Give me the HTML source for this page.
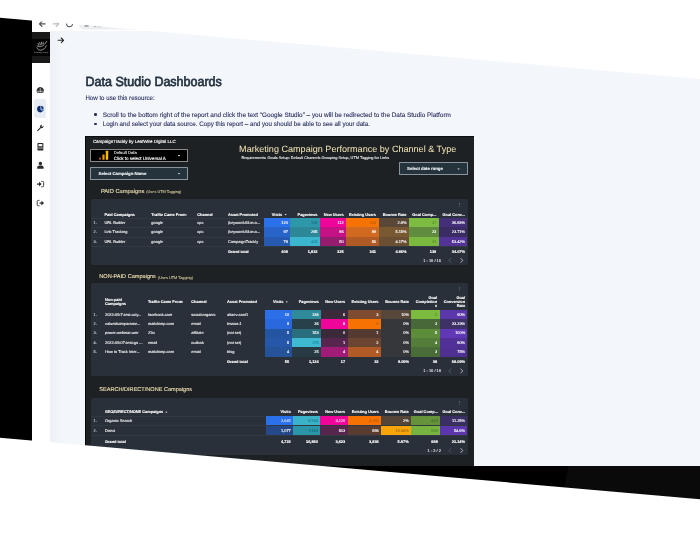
<!DOCTYPE html>
<html><head><meta charset="utf-8"><title>Data Studio Dashboards</title>
<style>
html,body{margin:0;padding:0;}
body{width:700px;height:560px;overflow:hidden;background:#fff;position:relative;font-family:"Liberation Sans",sans-serif;}
.tx{will-change:transform;text-rendering:geometricPrecision;filter:blur(0.25px);}
.r{position:absolute;}
</style></head><body>
<div class="r" style="left:0.00px;top:0.00px;width:32.30px;height:470.00px;background:#000;"></div>
<div class="r" style="left:49.90px;top:31.10px;width:650.10px;height:434.90px;background:#f3f6fb;"></div>
<div class="r" style="left:49.90px;top:31.10px;width:13.10px;height:434.90px;background:linear-gradient(90deg,#eef1f6,#f3f6fb);"></div>
<div class="r" style="left:300.00px;top:466.00px;width:400.00px;height:39.00px;background:#000;"></div>
<svg class="r" style="left:0;top:0" width="700" height="560"><polygon points="568.5,466 700,466 700,505 561,505" fill="#0a0a0a"/></svg>
<svg class="r" style="left:0;top:0" width="700" height="560">
<g fill="none" stroke-linecap="round" stroke-linejoin="round">
<path d="M45.1,23.9 H39.4 M42,21.3 L39.4,23.9 L42,26.5" stroke="#50555a" stroke-width="1.1"/>
<path d="M53.2,23.9 H58.8 M56.2,21.3 L58.8,23.9 L56.2,26.5" stroke="#bdbdbd" stroke-width="1.1"/>
<path d="M72.6,23.4 A3.05,3.05 0 1 1 71.2,21.2" stroke="#50555a" stroke-width="1.05"/>
</g>
<rect x="78.8" y="19.4" width="640" height="10.1" rx="5" fill="#eceef1"/>
<rect x="84.8" y="25.2" width="3.8" height="1.2" fill="#555"/>
<rect x="94" y="25.8" width="2.5" height="1" fill="#999"/><rect x="98" y="26.2" width="3.5" height="0.9" fill="#aaa"/>
</svg>
<div class="r" style="left:32.30px;top:32.10px;width:17.60px;height:30.70px;background:#181818;"></div>
<div class="r" style="left:32.30px;top:38.70px;width:17.60px;height:17.20px;background:#020202;"></div>
<svg class="r" style="left:0;top:0" width="700" height="560">
<g fill="none" stroke="#ececec" stroke-linecap="round" stroke-width="0.6">
<path d="M36.9,47.8 C38,51.2 44,51.6 46.3,45.7"/>
<path d="M37.2,45.9 C39.5,47.7 43.5,46.9 46.7,41.4"/>
<path d="M38.0,43.3 L38.9,45.4 M39.7,42.5 L40.4,44.9 M41.5,42.1 L41.8,44.5 M43.3,42.3 L43.2,43.7"/>
</g></svg>
<svg class="r" style="left:0;top:0" width="700" height="560">
<path d="M58.1,40.3 H63.6 M61.3,38 L63.6,40.3 L61.3,42.6" fill="none" stroke="#2a2a2a" stroke-width="1.1" stroke-linecap="round" stroke-linejoin="round"/></svg>
<div class="r" style="left:34.20px;top:99.30px;width:12.00px;height:18.80px;background:#e8ecf4;border-radius:2px;"></div>
<svg class="r" style="left:0;top:0" width="700" height="560"><g transform="translate(40.25,90.9) scale(1.0)"><path d="M-3.0,1.75 A3.55,3.55 0 1 1 3.0,1.75 Z" fill="#2b2b2b"/><path d="M0,-3.2 V1.0 M-3.3,0.35 H3.3" stroke="#fff" stroke-width="0.6"/></g><g transform="translate(40.4,109.10000000000001) scale(0.88)"><circle cx="0" cy="0" r="3.75" fill="#0b2c72"/><path d="M0.5,-4.4 V0.1 H4.6" fill="none" stroke="#e8ecf4" stroke-width="0.8"/><path d="M0.5,0.1 L3.2,3.3" fill="none" stroke="#e8ecf4" stroke-width="0.8"/></g><g transform="translate(40.4,127.9) scale(0.75)"><path d="M-3.6,3.6 L0.6,-0.6" stroke="#2b2b2b" stroke-width="1.5" stroke-linecap="round"/><circle cx="1.8" cy="-1.9" r="2.3" fill="#2b2b2b"/><path d="M1.8,-1.9 L4.6,-4.6" stroke="#fff" stroke-width="1.5"/></g><g transform="translate(40.4,146.70000000000002) scale(0.9)"><rect x="-3.3" y="-4.1" width="6.6" height="8.2" rx="0.7" fill="#2b2b2b"/><rect x="-2.1" y="-2.9" width="4.2" height="2.4" fill="#fff"/><rect x="-3.3" y="1.1" width="6.6" height="0.7" fill="#fff"/></g><g transform="translate(40.4,165.29999999999998) scale(0.82)"><circle cx="0" cy="-2.2" r="2.1" fill="#2b2b2b"/><path d="M-3.9,4.1 V2.6 Q-3.9,0.3 -1.4,0.3 H1.4 Q3.9,0.3 3.9,2.6 V4.1 Z" fill="#2b2b2b"/></g><g transform="translate(40.4,184.1) scale(0.82)"><path d="M-4.2,0 H-0.2" stroke="#2b2b2b" stroke-width="1.6"/><path d="M-1.6,-3 L1.5,0 L-1.6,3 Z" fill="#2b2b2b"/><path d="M1.6,-3.3 H2.6 Q3.9,-3.3 3.9,-2.1 V2.1 Q3.9,3.3 2.6,3.3 H1.6" fill="none" stroke="#2b2b2b" stroke-width="1.1" stroke-linecap="round"/></g><g transform="translate(40.4,203.1) scale(0.82)"><path d="M-1,0 H2.2" stroke="#2b2b2b" stroke-width="1.6"/><path d="M1.3,-3 L4.4,0 L1.3,3 Z" fill="#2b2b2b"/><path d="M-1.6,-3.3 H-2.6 Q-3.9,-3.3 -3.9,-2.1 V2.1 Q-3.9,3.3 -2.6,3.3 H-1.6" fill="none" stroke="#2b2b2b" stroke-width="1.1" stroke-linecap="round"/></g></svg>
<div class="r" style="left:94.10px;top:113.10px;width:2.60px;height:2.60px;background:#282d5c;border-radius:50%;"></div>
<div class="r" style="left:94.10px;top:122.80px;width:2.60px;height:2.60px;background:#282d5c;border-radius:50%;"></div>
<div class="r" style="left:84.90px;top:136.10px;width:388.70px;height:329.90px;background:#1e2124;"></div>
<div class="r" style="left:84.90px;top:136.10px;width:1.40px;height:329.90px;background:#070707;"></div>
<div class="r" style="left:84.90px;top:136.10px;width:388.70px;height:1.00px;background:#0c0d0e;"></div>
<div class="r" style="left:90.30px;top:149.10px;width:97.70px;height:13.20px;background:#000;border:0.6px solid #8a8a8a;box-sizing:border-box;border-radius:0.6px;"></div>
<div class="r" style="left:90.30px;top:167.10px;width:97.70px;height:12.90px;background:#25333d;border:0.6px solid #8a949e;box-sizing:border-box;border-radius:0.6px;"></div>
<div class="r" style="left:399.10px;top:162.30px;width:68.90px;height:12.80px;background:#25333d;border:0.6px solid #8a949e;box-sizing:border-box;border-radius:0.6px;"></div>
<svg class="r" style="left:0;top:0" width="700" height="560">
<rect x="99.2" y="157.6" width="1.6" height="2.2" rx="0.7" fill="#e8710a"/>
<rect x="102.4" y="154.4" width="2.2" height="5.4" rx="0.5" fill="#f29900"/>
<rect x="105.8" y="150.8" width="2.4" height="9" rx="0.5" fill="#fbbc04"/>
<path d="M177.8,155 h2.4 l-1.2,1.4 z" fill="#fff"/>
<path d="M177.8,173 h2.4 l-1.2,1.4 z" fill="#dfe6ee"/>
<path d="M457.4,168.4 h2.4 l-1.2,1.4 z" fill="#dfe6ee"/>
</svg>
<div class="r" style="left:90.70px;top:199.30px;width:377.30px;height:65.70px;background:#293039;border-radius:1.8px;"></div>
<div class="r" style="left:459.25px;top:202.75px;width:0.70px;height:0.70px;background:#59606a;border-radius:50%;"></div>
<div class="r" style="left:459.25px;top:204.25px;width:0.70px;height:0.70px;background:#59606a;border-radius:50%;"></div>
<div class="r" style="left:459.25px;top:205.75px;width:0.70px;height:0.70px;background:#59606a;border-radius:50%;"></div>
<div class="r" style="left:90.70px;top:217.65px;width:377.30px;height:0.50px;background:#323840;"></div>
<div class="r" style="left:263.80px;top:217.90px;width:27.20px;height:10.10px;background:#2c71ec;"></div>
<div class="r" style="left:290.40px;top:217.90px;width:30.20px;height:10.10px;background:#2e98ab;"></div>
<div class="r" style="left:320.00px;top:217.90px;width:26.70px;height:10.10px;background:#f0059a;"></div>
<div class="r" style="left:346.10px;top:217.90px;width:33.00px;height:10.10px;background:#f67303;"></div>
<div class="r" style="left:378.50px;top:217.90px;width:31.10px;height:10.10px;background:#5a4738;"></div>
<div class="r" style="left:409.00px;top:217.90px;width:30.40px;height:10.10px;background:#7dbb42;"></div>
<div class="r" style="left:438.80px;top:217.90px;width:28.20px;height:10.10px;background:#452f78;"></div>
<div class="r" style="left:90.70px;top:227.15px;width:377.30px;height:0.50px;background:#323840;"></div>
<div class="r" style="left:263.80px;top:227.40px;width:27.20px;height:10.00px;background:#2863c9;"></div>
<div class="r" style="left:290.40px;top:227.40px;width:30.20px;height:10.00px;background:#2c8797;"></div>
<div class="r" style="left:320.00px;top:227.40px;width:26.70px;height:10.00px;background:#c41285;"></div>
<div class="r" style="left:346.10px;top:227.40px;width:33.00px;height:10.00px;background:#d16a20;"></div>
<div class="r" style="left:378.50px;top:227.40px;width:31.10px;height:10.00px;background:#785931;"></div>
<div class="r" style="left:409.00px;top:227.40px;width:30.40px;height:10.00px;background:#608c3e;"></div>
<div class="r" style="left:438.80px;top:227.40px;width:28.20px;height:10.00px;background:#3a2c63;"></div>
<div class="r" style="left:90.70px;top:236.55px;width:377.30px;height:0.50px;background:#323840;"></div>
<div class="r" style="left:263.80px;top:236.80px;width:27.20px;height:9.40px;background:#265ab0;"></div>
<div class="r" style="left:290.40px;top:236.80px;width:30.20px;height:9.40px;background:#3cb5ce;"></div>
<div class="r" style="left:320.00px;top:236.80px;width:26.70px;height:9.40px;background:#961c6e;"></div>
<div class="r" style="left:346.10px;top:236.80px;width:33.00px;height:9.40px;background:#b05a26;"></div>
<div class="r" style="left:378.50px;top:236.80px;width:31.10px;height:9.40px;background:#6b4f33;"></div>
<div class="r" style="left:409.00px;top:236.80px;width:30.40px;height:9.40px;background:#7ab83f;"></div>
<div class="r" style="left:438.80px;top:236.80px;width:28.20px;height:9.40px;background:#533397;"></div>
<div class="r" style="left:90.70px;top:245.95px;width:377.30px;height:0.50px;background:#323840;"></div>
<svg class="r" style="left:0;top:0" width="700" height="560"><path d="M451,258.09999999999997 L448.9,260.4 L451,262.7" fill="none" stroke="#6b737d" stroke-width="0.7"/><path d="M460.6,258.09999999999997 L462.7,260.4 L460.6,262.7" fill="none" stroke="#e8e8e8" stroke-width="0.7"/></svg>
<div class="r" style="left:90.70px;top:283.30px;width:377.30px;height:92.60px;background:#293039;border-radius:1.8px;"></div>
<div class="r" style="left:459.25px;top:286.75px;width:0.70px;height:0.70px;background:#59606a;border-radius:50%;"></div>
<div class="r" style="left:459.25px;top:288.25px;width:0.70px;height:0.70px;background:#59606a;border-radius:50%;"></div>
<div class="r" style="left:459.25px;top:289.75px;width:0.70px;height:0.70px;background:#59606a;border-radius:50%;"></div>
<div class="r" style="left:265.40px;top:309.60px;width:27.00px;height:10.00px;background:#2c6fe9;"></div>
<div class="r" style="left:291.80px;top:309.60px;width:29.80px;height:10.00px;background:#2f8a99;"></div>
<div class="r" style="left:321.00px;top:309.60px;width:27.30px;height:10.00px;background:#3a2a3a;"></div>
<div class="r" style="left:347.70px;top:309.60px;width:34.20px;height:10.00px;background:#7e4a30;"></div>
<div class="r" style="left:381.30px;top:309.60px;width:30.50px;height:10.00px;background:#57463a;"></div>
<div class="r" style="left:411.20px;top:309.60px;width:29.80px;height:10.00px;background:#7cba40;"></div>
<div class="r" style="left:440.40px;top:309.60px;width:26.70px;height:10.00px;background:#5c36ab;"></div>
<div class="r" style="left:265.40px;top:319.00px;width:27.00px;height:10.10px;background:#2a69dd;"></div>
<div class="r" style="left:291.80px;top:319.00px;width:29.80px;height:10.10px;background:#28404a;"></div>
<div class="r" style="left:321.00px;top:319.00px;width:27.30px;height:10.10px;background:#f0059a;"></div>
<div class="r" style="left:347.70px;top:319.00px;width:34.20px;height:10.10px;background:#f67303;"></div>
<div class="r" style="left:381.30px;top:319.00px;width:30.50px;height:10.10px;background:#35373b;"></div>
<div class="r" style="left:411.20px;top:319.00px;width:29.80px;height:10.10px;background:#48683a;"></div>
<div class="r" style="left:440.40px;top:319.00px;width:26.70px;height:10.10px;background:#3d3166;"></div>
<div class="r" style="left:265.40px;top:328.50px;width:27.00px;height:10.00px;background:#2455a2;"></div>
<div class="r" style="left:291.80px;top:328.50px;width:29.80px;height:10.00px;background:#286e7c;"></div>
<div class="r" style="left:321.00px;top:328.50px;width:27.30px;height:10.00px;background:#3a2a3a;"></div>
<div class="r" style="left:347.70px;top:328.50px;width:34.20px;height:10.00px;background:#543a30;"></div>
<div class="r" style="left:381.30px;top:328.50px;width:30.50px;height:10.00px;background:#35373b;"></div>
<div class="r" style="left:411.20px;top:328.50px;width:29.80px;height:10.00px;background:#5d8d3a;"></div>
<div class="r" style="left:440.40px;top:328.50px;width:26.70px;height:10.00px;background:#6037b5;"></div>
<div class="r" style="left:265.40px;top:337.90px;width:27.00px;height:10.00px;background:#2657a8;"></div>
<div class="r" style="left:291.80px;top:337.90px;width:29.80px;height:10.00px;background:#3eb9d1;"></div>
<div class="r" style="left:321.00px;top:337.90px;width:27.30px;height:10.00px;background:#56264e;"></div>
<div class="r" style="left:347.70px;top:337.90px;width:34.20px;height:10.00px;background:#6c4530;"></div>
<div class="r" style="left:381.30px;top:337.90px;width:30.50px;height:10.00px;background:#35373b;"></div>
<div class="r" style="left:411.20px;top:337.90px;width:29.80px;height:10.00px;background:#537d38;"></div>
<div class="r" style="left:440.40px;top:337.90px;width:26.70px;height:10.00px;background:#513198;"></div>
<div class="r" style="left:265.40px;top:347.30px;width:27.00px;height:9.80px;background:#245399;"></div>
<div class="r" style="left:291.80px;top:347.30px;width:29.80px;height:9.80px;background:#283a44;"></div>
<div class="r" style="left:321.00px;top:347.30px;width:27.30px;height:9.80px;background:#a01c76;"></div>
<div class="r" style="left:347.70px;top:347.30px;width:34.20px;height:9.80px;background:#b05a26;"></div>
<div class="r" style="left:381.30px;top:347.30px;width:30.50px;height:9.80px;background:#35373b;"></div>
<div class="r" style="left:411.20px;top:347.30px;width:29.80px;height:9.80px;background:#4a6c38;"></div>
<div class="r" style="left:440.40px;top:347.30px;width:26.70px;height:9.80px;background:#4e3093;"></div>
<svg class="r" style="left:0;top:0" width="700" height="560"><path d="M451,368.59999999999997 L448.9,370.9 L451,373.2" fill="none" stroke="#6b737d" stroke-width="0.7"/><path d="M460.6,368.59999999999997 L462.7,370.9 L460.6,373.2" fill="none" stroke="#e8e8e8" stroke-width="0.7"/></svg>
<div class="r" style="left:90.70px;top:397.70px;width:377.30px;height:57.80px;background:#293039;border-radius:1.8px;"></div>
<div class="r" style="left:459.25px;top:400.85px;width:0.70px;height:0.70px;background:#59606a;border-radius:50%;"></div>
<div class="r" style="left:459.25px;top:402.35px;width:0.70px;height:0.70px;background:#59606a;border-radius:50%;"></div>
<div class="r" style="left:459.25px;top:403.85px;width:0.70px;height:0.70px;background:#59606a;border-radius:50%;"></div>
<div class="r" style="left:90.70px;top:415.95px;width:377.30px;height:0.50px;background:#323840;"></div>
<div class="r" style="left:266.00px;top:416.20px;width:27.90px;height:10.00px;background:#2c71ec;"></div>
<div class="r" style="left:293.30px;top:416.20px;width:27.70px;height:10.00px;background:#3ab2c8;"></div>
<div class="r" style="left:320.40px;top:416.20px;width:27.90px;height:10.00px;background:#f0059a;"></div>
<div class="r" style="left:347.70px;top:416.20px;width:34.20px;height:10.00px;background:#f67303;"></div>
<div class="r" style="left:381.30px;top:416.20px;width:30.50px;height:10.00px;background:#554539;"></div>
<div class="r" style="left:411.20px;top:416.20px;width:29.80px;height:10.00px;background:#64933c;"></div>
<div class="r" style="left:440.40px;top:416.20px;width:26.60px;height:10.00px;background:#3a2e64;"></div>
<div class="r" style="left:90.70px;top:425.35px;width:377.30px;height:0.50px;background:#323840;"></div>
<div class="r" style="left:266.00px;top:425.60px;width:27.90px;height:9.40px;background:#244888;"></div>
<div class="r" style="left:293.30px;top:425.60px;width:27.70px;height:9.40px;background:#2a96a8;"></div>
<div class="r" style="left:320.40px;top:425.60px;width:27.90px;height:9.40px;background:#56264e;"></div>
<div class="r" style="left:347.70px;top:425.60px;width:34.20px;height:9.40px;background:#583c30;"></div>
<div class="r" style="left:381.30px;top:425.60px;width:30.50px;height:9.40px;background:#f8a509;"></div>
<div class="r" style="left:411.20px;top:425.60px;width:29.80px;height:9.40px;background:#77b341;"></div>
<div class="r" style="left:440.40px;top:425.60px;width:26.60px;height:9.40px;background:#5c36ac;"></div>
<div class="r" style="left:90.70px;top:434.75px;width:377.30px;height:0.50px;background:#323840;"></div>
<svg class="r" style="left:0;top:0" width="700" height="560"><path d="M451,448.2 L448.9,450.5 L451,452.8" fill="none" stroke="#5a626b" stroke-width="0.7"/><path d="M460.6,448.2 L462.7,450.5 L460.6,452.8" fill="none" stroke="#e8e8e8" stroke-width="0.7"/></svg>
<svg class="r" style="left:0;top:0" width="700" height="560"><path d="M284.50,213.90 h2.2 l-1.1,1.3 z" fill="#fff"/><path d="M285.70,301.50 h2.2 l-1.1,1.3 z" fill="#fff"/><path d="M165.19,411.70 h2.2 l-1.1,1.3 z" fill="#fff"/></svg>
<svg class="r tx" style="left:0;top:0" width="700" height="560" font-family="Liberation Sans, sans-serif"><text x="33.84" y="53.21" font-size="1.90" fill="#aaa" textLength="14.71" lengthAdjust="spacingAndGlyphs">CampaignTrackly</text><text x="85.60" y="85.60" font-size="13.20" fill="#1f2d3b" stroke="#1f2d3b" stroke-width="0.65" textLength="136.20" lengthAdjust="spacingAndGlyphs">Data Studio Dashboards</text><text x="85.40" y="100.00" font-size="6.40" fill="#282d5c" stroke="#282d5c" stroke-width="0.1" textLength="69.30" lengthAdjust="spacingAndGlyphs">How to use this resource:</text><text x="102.70" y="116.86" font-size="6.45" fill="#282d5c" stroke="#282d5c" stroke-width="0.1" textLength="348.20" lengthAdjust="spacingAndGlyphs">Scroll to the bottom right of the report and click the text “Google Studio” – you will be redirected to the Data Studio Platform</text><text x="102.70" y="126.46" font-size="6.45" fill="#282d5c" stroke="#282d5c" stroke-width="0.1" textLength="267.30" lengthAdjust="spacingAndGlyphs">Login and select your data source. Copy this report – and you should be able to see all your data.</text><text x="92.90" y="142.93" font-size="4.47" fill="#fff" stroke="#fff" stroke-width="0.12" textLength="82.80" lengthAdjust="spacingAndGlyphs">CampaignTrackly by LeafWire Digital LLC</text><text x="113.70" y="154.22" font-size="4.14" fill="#ddd" stroke="#ddd" stroke-width="0.12" textLength="23.00" lengthAdjust="spacingAndGlyphs">Default Data</text><text x="113.70" y="159.55" font-size="4.52" fill="#fff" stroke="#fff" stroke-width="0.12" textLength="52.00" lengthAdjust="spacingAndGlyphs">Click to select Universal A</text><text x="98.60" y="175.08" font-size="4.31" fill="#f0f4f8" font-weight="bold" stroke="#f0f4f8" stroke-width="0.12" textLength="47.70" lengthAdjust="spacingAndGlyphs">Select Campaign Name</text><text x="239.10" y="152.00" font-size="9.07" fill="#f5e8b8" textLength="217.20" lengthAdjust="spacingAndGlyphs">Marketing Campaign Performance by Channel &amp; Type</text><text x="241.40" y="159.00" font-size="3.85" fill="#e8e8e8" stroke="#e8e8e8" stroke-width="0.12" textLength="147.70" lengthAdjust="spacingAndGlyphs">Requirements: Goals Setup: Default Channels Grouping Setup, UTM Tagging for Links</text><text x="407.10" y="170.08" font-size="4.32" fill="#f0f4f8" font-weight="bold" stroke="#f0f4f8" stroke-width="0.12" textLength="35.80" lengthAdjust="spacingAndGlyphs">Select date range</text><text x="100.90" y="193.23" font-size="5.71" fill="#f5e8b8" stroke="#f5e8b8" stroke-width="0.07" textLength="43.40" lengthAdjust="spacingAndGlyphs">PAID Campaigns</text><text x="146.30" y="193.23" font-size="3.84" fill="#e6d9aa" stroke="#e6d9aa" stroke-width="0.04" textLength="35.10" lengthAdjust="spacingAndGlyphs">(Uses UTM Tagging)</text><text x="99.30" y="278.48" font-size="5.58" fill="#f5e8b8" stroke="#f5e8b8" stroke-width="0.07" textLength="56.60" lengthAdjust="spacingAndGlyphs">NON-PAID Campaigns</text><text x="157.90" y="278.53" font-size="3.84" fill="#e6d9aa" stroke="#e6d9aa" stroke-width="0.04" textLength="35.10" lengthAdjust="spacingAndGlyphs">(Uses UTM Tagging)</text><text x="99.30" y="390.68" font-size="5.57" fill="#f5e8b8" stroke="#f5e8b8" stroke-width="0.07" textLength="92.80" lengthAdjust="spacingAndGlyphs">SEARCH/DIRECT/NONE Campaigns</text><text x="104.40" y="215.65" font-size="3.90" fill="#fff" font-weight="bold" stroke="#fff" stroke-width="0.12" textLength="30.34" lengthAdjust="spacingAndGlyphs">Paid Campaigns</text><text x="151.30" y="215.65" font-size="3.90" fill="#fff" font-weight="bold" stroke="#fff" stroke-width="0.12" textLength="35.54" lengthAdjust="spacingAndGlyphs">Traffic Came From:</text><text x="197.30" y="215.65" font-size="3.90" fill="#fff" font-weight="bold" stroke="#fff" stroke-width="0.12" textLength="15.38" lengthAdjust="spacingAndGlyphs">Channel</text><text x="227.90" y="215.65" font-size="3.90" fill="#fff" font-weight="bold" stroke="#fff" stroke-width="0.12" textLength="29.91" lengthAdjust="spacingAndGlyphs">Asset Promoted</text><text x="271.77" y="215.65" font-size="3.90" fill="#fff" font-weight="bold" stroke="#fff" stroke-width="0.12" textLength="10.33" lengthAdjust="spacingAndGlyphs">Visits</text><text x="297.56" y="215.65" font-size="3.90" fill="#fff" font-weight="bold" stroke="#fff" stroke-width="0.12" textLength="19.94" lengthAdjust="spacingAndGlyphs">Pageviews</text><text x="323.66" y="215.65" font-size="3.90" fill="#fff" font-weight="bold" stroke="#fff" stroke-width="0.12" textLength="19.94" lengthAdjust="spacingAndGlyphs">New Users</text><text x="348.91" y="215.65" font-size="3.90" fill="#fff" font-weight="bold" stroke="#fff" stroke-width="0.12" textLength="27.09" lengthAdjust="spacingAndGlyphs">Existing Users</text><text x="382.66" y="215.65" font-size="3.90" fill="#fff" font-weight="bold" stroke="#fff" stroke-width="0.12" textLength="23.84" lengthAdjust="spacingAndGlyphs">Bounce Rate</text><text x="412.25" y="215.65" font-size="3.90" fill="#fff" font-weight="bold" stroke="#fff" stroke-width="0.12" textLength="24.05" lengthAdjust="spacingAndGlyphs">Goal Comp...</text><text x="442.54" y="215.65" font-size="3.90" fill="#fff" font-weight="bold" stroke="#fff" stroke-width="0.12" textLength="22.46" lengthAdjust="spacingAndGlyphs">Goal Conv...</text><text x="93.60" y="223.90" font-size="3.90" fill="#c9cdd2" stroke="#c9cdd2" stroke-width="0.12" textLength="3.25" lengthAdjust="spacingAndGlyphs">1.</text><text x="104.40" y="223.90" font-size="3.90" fill="#f2f2f2" stroke="#f2f2f2" stroke-width="0.12" textLength="20.88" lengthAdjust="spacingAndGlyphs">URL Builder</text><text x="151.30" y="223.90" font-size="3.90" fill="#f2f2f2" stroke="#f2f2f2" stroke-width="0.12" textLength="11.71" lengthAdjust="spacingAndGlyphs">google</text><text x="197.30" y="223.90" font-size="3.90" fill="#f2f2f2" stroke="#f2f2f2" stroke-width="0.12" textLength="6.07" lengthAdjust="spacingAndGlyphs">cpc</text><text x="227.90" y="223.90" font-size="3.90" fill="#f2f2f2" stroke="#f2f2f2" stroke-width="0.12" textLength="32.29" lengthAdjust="spacingAndGlyphs">(keyword:All-in-o...</text><text x="281.39" y="223.90" font-size="3.90" fill="#fff" stroke="#fff" stroke-width="0.12" textLength="6.51" lengthAdjust="spacingAndGlyphs">120</text><text x="310.99" y="223.90" font-size="3.90" fill="#1c6f80" stroke="#1c6f80" stroke-width="0.12" textLength="6.51" lengthAdjust="spacingAndGlyphs">333</text><text x="337.38" y="223.90" font-size="3.90" fill="#fff" stroke="#fff" stroke-width="0.12" textLength="6.22" lengthAdjust="spacingAndGlyphs">112</text><text x="369.78" y="223.90" font-size="3.90" fill="#bd5c06" stroke="#bd5c06" stroke-width="0.12" textLength="6.22" lengthAdjust="spacingAndGlyphs">116</text><text x="397.61" y="223.90" font-size="3.90" fill="#fff" stroke="#fff" stroke-width="0.12" textLength="8.89" lengthAdjust="spacingAndGlyphs">2.9%</text><text x="431.96" y="223.90" font-size="3.90" fill="#5f962c" stroke="#5f962c" stroke-width="0.12" textLength="4.34" lengthAdjust="spacingAndGlyphs">37</text><text x="451.77" y="223.90" font-size="3.90" fill="#fff" stroke="#fff" stroke-width="0.12" textLength="13.23" lengthAdjust="spacingAndGlyphs">36.83%</text><text x="93.60" y="233.35" font-size="3.90" fill="#c9cdd2" stroke="#c9cdd2" stroke-width="0.12" textLength="3.25" lengthAdjust="spacingAndGlyphs">2.</text><text x="104.40" y="233.35" font-size="3.90" fill="#f2f2f2" stroke="#f2f2f2" stroke-width="0.12" textLength="22.98" lengthAdjust="spacingAndGlyphs">Link Tracking</text><text x="151.30" y="233.35" font-size="3.90" fill="#f2f2f2" stroke="#f2f2f2" stroke-width="0.12" textLength="11.71" lengthAdjust="spacingAndGlyphs">google</text><text x="197.30" y="233.35" font-size="3.90" fill="#f2f2f2" stroke="#f2f2f2" stroke-width="0.12" textLength="6.07" lengthAdjust="spacingAndGlyphs">cpc</text><text x="227.90" y="233.35" font-size="3.90" fill="#f2f2f2" stroke="#f2f2f2" stroke-width="0.12" textLength="32.29" lengthAdjust="spacingAndGlyphs">(keyword:All-in-o...</text><text x="283.56" y="233.35" font-size="3.90" fill="#fff" stroke="#fff" stroke-width="0.12" textLength="4.34" lengthAdjust="spacingAndGlyphs">97</text><text x="310.99" y="233.35" font-size="3.90" fill="#fff" stroke="#fff" stroke-width="0.12" textLength="6.51" lengthAdjust="spacingAndGlyphs">295</text><text x="339.26" y="233.35" font-size="3.90" fill="#fff" stroke="#fff" stroke-width="0.12" textLength="4.34" lengthAdjust="spacingAndGlyphs">86</text><text x="371.66" y="233.35" font-size="3.90" fill="#fff" stroke="#fff" stroke-width="0.12" textLength="4.34" lengthAdjust="spacingAndGlyphs">89</text><text x="395.44" y="233.35" font-size="3.90" fill="#fff" stroke="#fff" stroke-width="0.12" textLength="11.06" lengthAdjust="spacingAndGlyphs">5.15%</text><text x="431.96" y="233.35" font-size="3.90" fill="#fff" stroke="#fff" stroke-width="0.12" textLength="4.34" lengthAdjust="spacingAndGlyphs">23</text><text x="451.77" y="233.35" font-size="3.90" fill="#fff" stroke="#fff" stroke-width="0.12" textLength="13.23" lengthAdjust="spacingAndGlyphs">23.71%</text><text x="93.60" y="242.75" font-size="3.90" fill="#c9cdd2" stroke="#c9cdd2" stroke-width="0.12" textLength="3.25" lengthAdjust="spacingAndGlyphs">3.</text><text x="104.40" y="242.75" font-size="3.90" fill="#f2f2f2" stroke="#f2f2f2" stroke-width="0.12" textLength="20.88" lengthAdjust="spacingAndGlyphs">URL Builder</text><text x="151.30" y="242.75" font-size="3.90" fill="#f2f2f2" stroke="#f2f2f2" stroke-width="0.12" textLength="11.71" lengthAdjust="spacingAndGlyphs">google</text><text x="197.30" y="242.75" font-size="3.90" fill="#f2f2f2" stroke="#f2f2f2" stroke-width="0.12" textLength="6.07" lengthAdjust="spacingAndGlyphs">cpc</text><text x="227.90" y="242.75" font-size="3.90" fill="#f2f2f2" stroke="#f2f2f2" stroke-width="0.12" textLength="30.20" lengthAdjust="spacingAndGlyphs">CampaignTrackly</text><text x="283.56" y="242.75" font-size="3.90" fill="#fff" stroke="#fff" stroke-width="0.12" textLength="4.34" lengthAdjust="spacingAndGlyphs">78</text><text x="310.99" y="242.75" font-size="3.90" fill="#1f8ea3" stroke="#1f8ea3" stroke-width="0.12" textLength="6.51" lengthAdjust="spacingAndGlyphs">408</text><text x="339.26" y="242.75" font-size="3.90" fill="#fff" stroke="#fff" stroke-width="0.12" textLength="4.34" lengthAdjust="spacingAndGlyphs">50</text><text x="371.66" y="242.75" font-size="3.90" fill="#fff" stroke="#fff" stroke-width="0.12" textLength="4.34" lengthAdjust="spacingAndGlyphs">56</text><text x="395.44" y="242.75" font-size="3.90" fill="#fff" stroke="#fff" stroke-width="0.12" textLength="11.06" lengthAdjust="spacingAndGlyphs">4.17%</text><text x="431.96" y="242.75" font-size="3.90" fill="#5f962c" stroke="#5f962c" stroke-width="0.12" textLength="4.34" lengthAdjust="spacingAndGlyphs">39</text><text x="451.77" y="242.75" font-size="3.90" fill="#fff" stroke="#fff" stroke-width="0.12" textLength="13.23" lengthAdjust="spacingAndGlyphs">53.42%</text><text x="227.90" y="252.85" font-size="3.90" fill="#fff" font-weight="bold" stroke="#fff" stroke-width="0.12" textLength="20.80" lengthAdjust="spacingAndGlyphs">Grand total</text><text x="281.39" y="252.85" font-size="3.90" fill="#fff" font-weight="bold" stroke="#fff" stroke-width="0.12" textLength="6.51" lengthAdjust="spacingAndGlyphs">408</text><text x="307.74" y="252.85" font-size="3.90" fill="#fff" font-weight="bold" stroke="#fff" stroke-width="0.12" textLength="9.76" lengthAdjust="spacingAndGlyphs">1,832</text><text x="337.09" y="252.85" font-size="3.90" fill="#fff" font-weight="bold" stroke="#fff" stroke-width="0.12" textLength="6.51" lengthAdjust="spacingAndGlyphs">325</text><text x="369.49" y="252.85" font-size="3.90" fill="#fff" font-weight="bold" stroke="#fff" stroke-width="0.12" textLength="6.51" lengthAdjust="spacingAndGlyphs">341</text><text x="395.44" y="252.85" font-size="3.90" fill="#fff" font-weight="bold" stroke="#fff" stroke-width="0.12" textLength="11.06" lengthAdjust="spacingAndGlyphs">4.66%</text><text x="429.79" y="252.85" font-size="3.90" fill="#fff" font-weight="bold" stroke="#fff" stroke-width="0.12" textLength="6.51" lengthAdjust="spacingAndGlyphs">139</text><text x="451.77" y="252.85" font-size="3.90" fill="#fff" font-weight="bold" stroke="#fff" stroke-width="0.12" textLength="13.23" lengthAdjust="spacingAndGlyphs">34.07%</text><text x="423.22" y="261.66" font-size="3.95" fill="#e6e6e6" stroke="#e6e6e6" stroke-width="0.12" textLength="17.78" lengthAdjust="spacingAndGlyphs">1 - 10 / 15</text><text x="105.00" y="301.45" font-size="3.90" fill="#fff" font-weight="bold" stroke="#fff" stroke-width="0.12" textLength="16.90" lengthAdjust="spacingAndGlyphs">Non-paid</text><text x="105.00" y="305.15" font-size="3.90" fill="#fff" font-weight="bold" stroke="#fff" stroke-width="0.12" textLength="21.02" lengthAdjust="spacingAndGlyphs">Campaigns</text><text x="147.90" y="303.25" font-size="3.90" fill="#fff" font-weight="bold" stroke="#fff" stroke-width="0.12" textLength="35.54" lengthAdjust="spacingAndGlyphs">Traffic Came From:</text><text x="191.30" y="303.25" font-size="3.90" fill="#fff" font-weight="bold" stroke="#fff" stroke-width="0.12" textLength="15.38" lengthAdjust="spacingAndGlyphs">Channel</text><text x="227.00" y="303.25" font-size="3.90" fill="#fff" font-weight="bold" stroke="#fff" stroke-width="0.12" textLength="29.91" lengthAdjust="spacingAndGlyphs">Asset Promoted</text><text x="272.97" y="303.25" font-size="3.90" fill="#fff" font-weight="bold" stroke="#fff" stroke-width="0.12" textLength="10.33" lengthAdjust="spacingAndGlyphs">Visits</text><text x="298.76" y="303.25" font-size="3.90" fill="#fff" font-weight="bold" stroke="#fff" stroke-width="0.12" textLength="19.94" lengthAdjust="spacingAndGlyphs">Pageviews</text><text x="325.26" y="303.25" font-size="3.90" fill="#fff" font-weight="bold" stroke="#fff" stroke-width="0.12" textLength="19.94" lengthAdjust="spacingAndGlyphs">New Users</text><text x="351.41" y="303.25" font-size="3.90" fill="#fff" font-weight="bold" stroke="#fff" stroke-width="0.12" textLength="27.09" lengthAdjust="spacingAndGlyphs">Existing Users</text><text x="385.16" y="303.25" font-size="3.90" fill="#fff" font-weight="bold" stroke="#fff" stroke-width="0.12" textLength="23.84" lengthAdjust="spacingAndGlyphs">Bounce Rate</text><text x="428.43" y="299.45" font-size="3.90" fill="#fff" font-weight="bold" stroke="#fff" stroke-width="0.12" textLength="8.67" lengthAdjust="spacingAndGlyphs">Goal</text><text x="415.65" y="303.25" font-size="3.90" fill="#fff" font-weight="bold" stroke="#fff" stroke-width="0.12" textLength="21.45" lengthAdjust="spacingAndGlyphs">Completion</text><text x="434.93" y="307.05" font-size="3.90" fill="#fff" font-weight="bold" stroke="#fff" stroke-width="0.12">s</text><text x="456.43" y="299.45" font-size="3.90" fill="#fff" font-weight="bold" stroke="#fff" stroke-width="0.12" textLength="8.67" lengthAdjust="spacingAndGlyphs">Goal</text><text x="443.65" y="303.25" font-size="3.90" fill="#fff" font-weight="bold" stroke="#fff" stroke-width="0.12" textLength="21.45" lengthAdjust="spacingAndGlyphs">Conversion</text><text x="456.65" y="307.05" font-size="3.90" fill="#fff" font-weight="bold" stroke="#fff" stroke-width="0.12" textLength="8.45" lengthAdjust="spacingAndGlyphs">Rate</text><text x="93.60" y="315.55" font-size="3.90" fill="#c9cdd2" stroke="#c9cdd2" stroke-width="0.12" textLength="3.25" lengthAdjust="spacingAndGlyphs">1.</text><text x="105.00" y="315.55" font-size="3.90" fill="#f2f2f2" stroke="#f2f2f2" stroke-width="0.12" textLength="36.34" lengthAdjust="spacingAndGlyphs">2022-09-7-test-czly...</text><text x="147.90" y="315.55" font-size="3.90" fill="#f2f2f2" stroke="#f2f2f2" stroke-width="0.12" textLength="24.28" lengthAdjust="spacingAndGlyphs">facebook.com</text><text x="191.30" y="315.55" font-size="3.90" fill="#f2f2f2" stroke="#f2f2f2" stroke-width="0.12" textLength="24.06" lengthAdjust="spacingAndGlyphs">social-organic</text><text x="227.00" y="315.55" font-size="3.90" fill="#f2f2f2" stroke="#f2f2f2" stroke-width="0.12" textLength="21.24" lengthAdjust="spacingAndGlyphs">altaev-cont1</text><text x="284.76" y="315.55" font-size="3.90" fill="#fff" stroke="#fff" stroke-width="0.12" textLength="4.34" lengthAdjust="spacingAndGlyphs">10</text><text x="312.19" y="315.55" font-size="3.90" fill="#fff" stroke="#fff" stroke-width="0.12" textLength="6.51" lengthAdjust="spacingAndGlyphs">236</text><text x="343.03" y="315.55" font-size="3.90" fill="#fff" stroke="#fff" stroke-width="0.12">6</text><text x="376.33" y="315.55" font-size="3.90" fill="#fff" stroke="#fff" stroke-width="0.12">3</text><text x="401.19" y="315.55" font-size="3.90" fill="#fff" stroke="#fff" stroke-width="0.12" textLength="7.81" lengthAdjust="spacingAndGlyphs">10%</text><text x="434.93" y="315.55" font-size="3.90" fill="#5f962c" stroke="#5f962c" stroke-width="0.12">9</text><text x="457.29" y="315.55" font-size="3.90" fill="#fff" stroke="#fff" stroke-width="0.12" textLength="7.81" lengthAdjust="spacingAndGlyphs">90%</text><text x="93.60" y="325.00" font-size="3.90" fill="#c9cdd2" stroke="#c9cdd2" stroke-width="0.12" textLength="3.25" lengthAdjust="spacingAndGlyphs">2.</text><text x="105.00" y="325.00" font-size="3.90" fill="#f2f2f2" stroke="#f2f2f2" stroke-width="0.12" textLength="35.33" lengthAdjust="spacingAndGlyphs">valuesfutmparame...</text><text x="147.90" y="325.00" font-size="3.90" fill="#f2f2f2" stroke="#f2f2f2" stroke-width="0.12" textLength="26.00" lengthAdjust="spacingAndGlyphs">mailchimp.com</text><text x="191.30" y="325.00" font-size="3.90" fill="#f2f2f2" stroke="#f2f2f2" stroke-width="0.12" textLength="9.32" lengthAdjust="spacingAndGlyphs">email</text><text x="227.00" y="325.00" font-size="3.90" fill="#f2f2f2" stroke="#f2f2f2" stroke-width="0.12" textLength="14.74" lengthAdjust="spacingAndGlyphs">lesson-1</text><text x="286.93" y="325.00" font-size="3.90" fill="#fff" stroke="#fff" stroke-width="0.12">9</text><text x="314.36" y="325.00" font-size="3.90" fill="#fff" stroke="#fff" stroke-width="0.12" textLength="4.34" lengthAdjust="spacingAndGlyphs">36</text><text x="343.03" y="325.00" font-size="3.90" fill="#fff" stroke="#fff" stroke-width="0.12">8</text><text x="376.33" y="325.00" font-size="3.90" fill="#bd5c06" stroke="#bd5c06" stroke-width="0.12">9</text><text x="403.36" y="325.00" font-size="3.90" fill="#fff" stroke="#fff" stroke-width="0.12" textLength="5.64" lengthAdjust="spacingAndGlyphs">0%</text><text x="434.93" y="325.00" font-size="3.90" fill="#fff" stroke="#fff" stroke-width="0.12">3</text><text x="451.87" y="325.00" font-size="3.90" fill="#fff" stroke="#fff" stroke-width="0.12" textLength="13.23" lengthAdjust="spacingAndGlyphs">33.33%</text><text x="93.60" y="334.45" font-size="3.90" fill="#c9cdd2" stroke="#c9cdd2" stroke-width="0.12" textLength="3.25" lengthAdjust="spacingAndGlyphs">3.</text><text x="105.00" y="334.45" font-size="3.90" fill="#f2f2f2" stroke="#f2f2f2" stroke-width="0.12" textLength="33.59" lengthAdjust="spacingAndGlyphs">power-webinar-umr</text><text x="147.90" y="334.45" font-size="3.90" fill="#f2f2f2" stroke="#f2f2f2" stroke-width="0.12" textLength="7.15" lengthAdjust="spacingAndGlyphs">21ic</text><text x="191.30" y="334.45" font-size="3.90" fill="#f2f2f2" stroke="#f2f2f2" stroke-width="0.12" textLength="12.29" lengthAdjust="spacingAndGlyphs">affiliate</text><text x="227.00" y="334.45" font-size="3.90" fill="#f2f2f2" stroke="#f2f2f2" stroke-width="0.12" textLength="14.30" lengthAdjust="spacingAndGlyphs">(not set)</text><text x="286.93" y="334.45" font-size="3.90" fill="#fff" stroke="#fff" stroke-width="0.12">5</text><text x="312.19" y="334.45" font-size="3.90" fill="#fff" stroke="#fff" stroke-width="0.12" textLength="6.51" lengthAdjust="spacingAndGlyphs">153</text><text x="343.03" y="334.45" font-size="3.90" fill="#fff" stroke="#fff" stroke-width="0.12">0</text><text x="376.33" y="334.45" font-size="3.90" fill="#fff" stroke="#fff" stroke-width="0.12">1</text><text x="403.36" y="334.45" font-size="3.90" fill="#fff" stroke="#fff" stroke-width="0.12" textLength="5.64" lengthAdjust="spacingAndGlyphs">0%</text><text x="434.93" y="334.45" font-size="3.90" fill="#fff" stroke="#fff" stroke-width="0.12">5</text><text x="455.13" y="334.45" font-size="3.90" fill="#fff" stroke="#fff" stroke-width="0.12" textLength="9.97" lengthAdjust="spacingAndGlyphs">100%</text><text x="93.60" y="343.85" font-size="3.90" fill="#c9cdd2" stroke="#c9cdd2" stroke-width="0.12" textLength="3.25" lengthAdjust="spacingAndGlyphs">4.</text><text x="105.00" y="343.85" font-size="3.90" fill="#f2f2f2" stroke="#f2f2f2" stroke-width="0.12" textLength="37.50" lengthAdjust="spacingAndGlyphs">2022-09-07-test-go ...</text><text x="147.90" y="343.85" font-size="3.90" fill="#f2f2f2" stroke="#f2f2f2" stroke-width="0.12" textLength="9.32" lengthAdjust="spacingAndGlyphs">email</text><text x="191.30" y="343.85" font-size="3.90" fill="#f2f2f2" stroke="#f2f2f2" stroke-width="0.12" textLength="12.58" lengthAdjust="spacingAndGlyphs">outlook</text><text x="227.00" y="343.85" font-size="3.90" fill="#f2f2f2" stroke="#f2f2f2" stroke-width="0.12" textLength="14.30" lengthAdjust="spacingAndGlyphs">(not set)</text><text x="286.93" y="343.85" font-size="3.90" fill="#fff" stroke="#fff" stroke-width="0.12">5</text><text x="312.19" y="343.85" font-size="3.90" fill="#1f8ea3" stroke="#1f8ea3" stroke-width="0.12" textLength="6.51" lengthAdjust="spacingAndGlyphs">376</text><text x="343.03" y="343.85" font-size="3.90" fill="#fff" stroke="#fff" stroke-width="0.12">1</text><text x="376.33" y="343.85" font-size="3.90" fill="#fff" stroke="#fff" stroke-width="0.12">2</text><text x="403.36" y="343.85" font-size="3.90" fill="#fff" stroke="#fff" stroke-width="0.12" textLength="5.64" lengthAdjust="spacingAndGlyphs">0%</text><text x="434.93" y="343.85" font-size="3.90" fill="#fff" stroke="#fff" stroke-width="0.12">4</text><text x="457.29" y="343.85" font-size="3.90" fill="#fff" stroke="#fff" stroke-width="0.12" textLength="7.81" lengthAdjust="spacingAndGlyphs">80%</text><text x="93.60" y="353.45" font-size="3.90" fill="#c9cdd2" stroke="#c9cdd2" stroke-width="0.12" textLength="3.25" lengthAdjust="spacingAndGlyphs">5.</text><text x="105.00" y="353.45" font-size="3.90" fill="#f2f2f2" stroke="#f2f2f2" stroke-width="0.12" textLength="34.68" lengthAdjust="spacingAndGlyphs">How to Track Inter...</text><text x="147.90" y="353.45" font-size="3.90" fill="#f2f2f2" stroke="#f2f2f2" stroke-width="0.12" textLength="26.00" lengthAdjust="spacingAndGlyphs">mailchimp.com</text><text x="191.30" y="353.45" font-size="3.90" fill="#f2f2f2" stroke="#f2f2f2" stroke-width="0.12" textLength="9.32" lengthAdjust="spacingAndGlyphs">email</text><text x="227.00" y="353.45" font-size="3.90" fill="#f2f2f2" stroke="#f2f2f2" stroke-width="0.12" textLength="7.37" lengthAdjust="spacingAndGlyphs">blog</text><text x="286.93" y="353.45" font-size="3.90" fill="#fff" stroke="#fff" stroke-width="0.12">4</text><text x="314.36" y="353.45" font-size="3.90" fill="#fff" stroke="#fff" stroke-width="0.12" textLength="4.34" lengthAdjust="spacingAndGlyphs">25</text><text x="343.03" y="353.45" font-size="3.90" fill="#fff" stroke="#fff" stroke-width="0.12">4</text><text x="376.33" y="353.45" font-size="3.90" fill="#fff" stroke="#fff" stroke-width="0.12">4</text><text x="403.36" y="353.45" font-size="3.90" fill="#fff" stroke="#fff" stroke-width="0.12" textLength="5.64" lengthAdjust="spacingAndGlyphs">0%</text><text x="434.93" y="353.45" font-size="3.90" fill="#fff" stroke="#fff" stroke-width="0.12">3</text><text x="457.29" y="353.45" font-size="3.90" fill="#fff" stroke="#fff" stroke-width="0.12" textLength="7.81" lengthAdjust="spacingAndGlyphs">75%</text><text x="227.00" y="362.75" font-size="3.90" fill="#fff" font-weight="bold" stroke="#fff" stroke-width="0.12" textLength="20.80" lengthAdjust="spacingAndGlyphs">Grand total</text><text x="284.76" y="362.75" font-size="3.90" fill="#fff" font-weight="bold" stroke="#fff" stroke-width="0.12" textLength="4.34" lengthAdjust="spacingAndGlyphs">55</text><text x="308.94" y="362.75" font-size="3.90" fill="#fff" font-weight="bold" stroke="#fff" stroke-width="0.12" textLength="9.76" lengthAdjust="spacingAndGlyphs">1,124</text><text x="340.86" y="362.75" font-size="3.90" fill="#fff" font-weight="bold" stroke="#fff" stroke-width="0.12" textLength="4.34" lengthAdjust="spacingAndGlyphs">17</text><text x="374.16" y="362.75" font-size="3.90" fill="#fff" font-weight="bold" stroke="#fff" stroke-width="0.12" textLength="4.34" lengthAdjust="spacingAndGlyphs">32</text><text x="397.94" y="362.75" font-size="3.90" fill="#fff" font-weight="bold" stroke="#fff" stroke-width="0.12" textLength="11.06" lengthAdjust="spacingAndGlyphs">9.09%</text><text x="432.76" y="362.75" font-size="3.90" fill="#fff" font-weight="bold" stroke="#fff" stroke-width="0.12" textLength="4.34" lengthAdjust="spacingAndGlyphs">38</text><text x="451.87" y="362.75" font-size="3.90" fill="#fff" font-weight="bold" stroke="#fff" stroke-width="0.12" textLength="13.23" lengthAdjust="spacingAndGlyphs">69.09%</text><text x="423.22" y="372.16" font-size="3.95" fill="#e6e6e6" stroke="#e6e6e6" stroke-width="0.12" textLength="17.78" lengthAdjust="spacingAndGlyphs">1 - 10 / 18</text><text x="105.00" y="413.45" font-size="3.90" fill="#fff" font-weight="bold" stroke="#fff" stroke-width="0.12" textLength="58.29" lengthAdjust="spacingAndGlyphs">SEO/DIRECT/NONE Campaigns</text><text x="280.47" y="413.45" font-size="3.90" fill="#fff" font-weight="bold" stroke="#fff" stroke-width="0.12" textLength="10.33" lengthAdjust="spacingAndGlyphs">Visits</text><text x="297.96" y="413.45" font-size="3.90" fill="#fff" font-weight="bold" stroke="#fff" stroke-width="0.12" textLength="19.94" lengthAdjust="spacingAndGlyphs">Pageviews</text><text x="325.26" y="413.45" font-size="3.90" fill="#fff" font-weight="bold" stroke="#fff" stroke-width="0.12" textLength="19.94" lengthAdjust="spacingAndGlyphs">New Users</text><text x="351.71" y="413.45" font-size="3.90" fill="#fff" font-weight="bold" stroke="#fff" stroke-width="0.12" textLength="27.09" lengthAdjust="spacingAndGlyphs">Existing Users</text><text x="384.86" y="413.45" font-size="3.90" fill="#fff" font-weight="bold" stroke="#fff" stroke-width="0.12" textLength="23.84" lengthAdjust="spacingAndGlyphs">Bounce Rate</text><text x="413.85" y="413.45" font-size="3.90" fill="#fff" font-weight="bold" stroke="#fff" stroke-width="0.12" textLength="24.05" lengthAdjust="spacingAndGlyphs">Goal Comp...</text><text x="442.54" y="413.45" font-size="3.90" fill="#fff" font-weight="bold" stroke="#fff" stroke-width="0.12" textLength="22.46" lengthAdjust="spacingAndGlyphs">Goal Conv...</text><text x="93.60" y="422.15" font-size="3.90" fill="#c9cdd2" stroke="#c9cdd2" stroke-width="0.12" textLength="3.25" lengthAdjust="spacingAndGlyphs">1.</text><text x="105.00" y="422.15" font-size="3.90" fill="#f2f2f2" stroke="#f2f2f2" stroke-width="0.12" textLength="27.09" lengthAdjust="spacingAndGlyphs">Organic Search</text><text x="281.04" y="422.15" font-size="3.90" fill="#c4dbff" stroke="#c4dbff" stroke-width="0.12" textLength="9.76" lengthAdjust="spacingAndGlyphs">3,645</text><text x="308.14" y="422.15" font-size="3.90" fill="#1f7e92" stroke="#1f7e92" stroke-width="0.12" textLength="9.76" lengthAdjust="spacingAndGlyphs">9,746</text><text x="335.44" y="422.15" font-size="3.90" fill="#ffd9f0" stroke="#ffd9f0" stroke-width="0.12" textLength="9.76" lengthAdjust="spacingAndGlyphs">3,120</text><text x="369.04" y="422.15" font-size="3.90" fill="#bd5c06" stroke="#bd5c06" stroke-width="0.12" textLength="9.76" lengthAdjust="spacingAndGlyphs">3,250</text><text x="403.06" y="422.15" font-size="3.90" fill="#fff" stroke="#fff" stroke-width="0.12" textLength="5.64" lengthAdjust="spacingAndGlyphs">2%</text><text x="431.39" y="422.15" font-size="3.90" fill="#44702a" stroke="#44702a" stroke-width="0.12" textLength="6.51" lengthAdjust="spacingAndGlyphs">410</text><text x="452.06" y="422.15" font-size="3.90" fill="#fff" stroke="#fff" stroke-width="0.12" textLength="12.94" lengthAdjust="spacingAndGlyphs">11.25%</text><text x="93.60" y="431.55" font-size="3.90" fill="#c9cdd2" stroke="#c9cdd2" stroke-width="0.12" textLength="3.25" lengthAdjust="spacingAndGlyphs">2.</text><text x="105.00" y="431.55" font-size="3.90" fill="#f2f2f2" stroke="#f2f2f2" stroke-width="0.12" textLength="10.18" lengthAdjust="spacingAndGlyphs">Direct</text><text x="281.04" y="431.55" font-size="3.90" fill="#fff" stroke="#fff" stroke-width="0.12" textLength="9.76" lengthAdjust="spacingAndGlyphs">1,077</text><text x="308.43" y="431.55" font-size="3.90" fill="#1b6a7a" stroke="#1b6a7a" stroke-width="0.12" textLength="9.47" lengthAdjust="spacingAndGlyphs">7,114</text><text x="338.69" y="431.55" font-size="3.90" fill="#fff" stroke="#fff" stroke-width="0.12" textLength="6.51" lengthAdjust="spacingAndGlyphs">503</text><text x="372.29" y="431.55" font-size="3.90" fill="#fff" stroke="#fff" stroke-width="0.12" textLength="6.51" lengthAdjust="spacingAndGlyphs">586</text><text x="395.47" y="431.55" font-size="3.90" fill="#a8700a" stroke="#a8700a" stroke-width="0.12" textLength="13.23" lengthAdjust="spacingAndGlyphs">10.94%</text><text x="431.39" y="431.55" font-size="3.90" fill="#57892c" stroke="#57892c" stroke-width="0.12" textLength="6.51" lengthAdjust="spacingAndGlyphs">588</text><text x="453.94" y="431.55" font-size="3.90" fill="#fff" stroke="#fff" stroke-width="0.12" textLength="11.06" lengthAdjust="spacingAndGlyphs">54.6%</text><text x="105.00" y="442.55" font-size="3.90" fill="#fff" font-weight="bold" stroke="#fff" stroke-width="0.12" textLength="20.80" lengthAdjust="spacingAndGlyphs">Grand total</text><text x="281.04" y="442.55" font-size="3.90" fill="#fff" font-weight="bold" stroke="#fff" stroke-width="0.12" textLength="9.76" lengthAdjust="spacingAndGlyphs">4,722</text><text x="305.97" y="442.55" font-size="3.90" fill="#fff" font-weight="bold" stroke="#fff" stroke-width="0.12" textLength="11.93" lengthAdjust="spacingAndGlyphs">16,860</text><text x="335.44" y="442.55" font-size="3.90" fill="#fff" font-weight="bold" stroke="#fff" stroke-width="0.12" textLength="9.76" lengthAdjust="spacingAndGlyphs">3,623</text><text x="369.04" y="442.55" font-size="3.90" fill="#fff" font-weight="bold" stroke="#fff" stroke-width="0.12" textLength="9.76" lengthAdjust="spacingAndGlyphs">3,836</text><text x="397.64" y="442.55" font-size="3.90" fill="#fff" font-weight="bold" stroke="#fff" stroke-width="0.12" textLength="11.06" lengthAdjust="spacingAndGlyphs">5.87%</text><text x="431.39" y="442.55" font-size="3.90" fill="#fff" font-weight="bold" stroke="#fff" stroke-width="0.12" textLength="6.51" lengthAdjust="spacingAndGlyphs">998</text><text x="451.77" y="442.55" font-size="3.90" fill="#fff" font-weight="bold" stroke="#fff" stroke-width="0.12" textLength="13.23" lengthAdjust="spacingAndGlyphs">21.14%</text><text x="427.61" y="451.76" font-size="3.95" fill="#e6e6e6" stroke="#e6e6e6" stroke-width="0.12" textLength="13.39" lengthAdjust="spacingAndGlyphs">1 - 2 / 2</text></svg>
<svg class="r" style="left:0;top:0" width="700" height="560">
<polygon points="0,0 700,0 700,79.1 0,17.8" fill="#fff"/>
<polygon points="0,437.7 700,499.3 700,560 0,560" fill="#fff"/>
</svg>
</body></html>
